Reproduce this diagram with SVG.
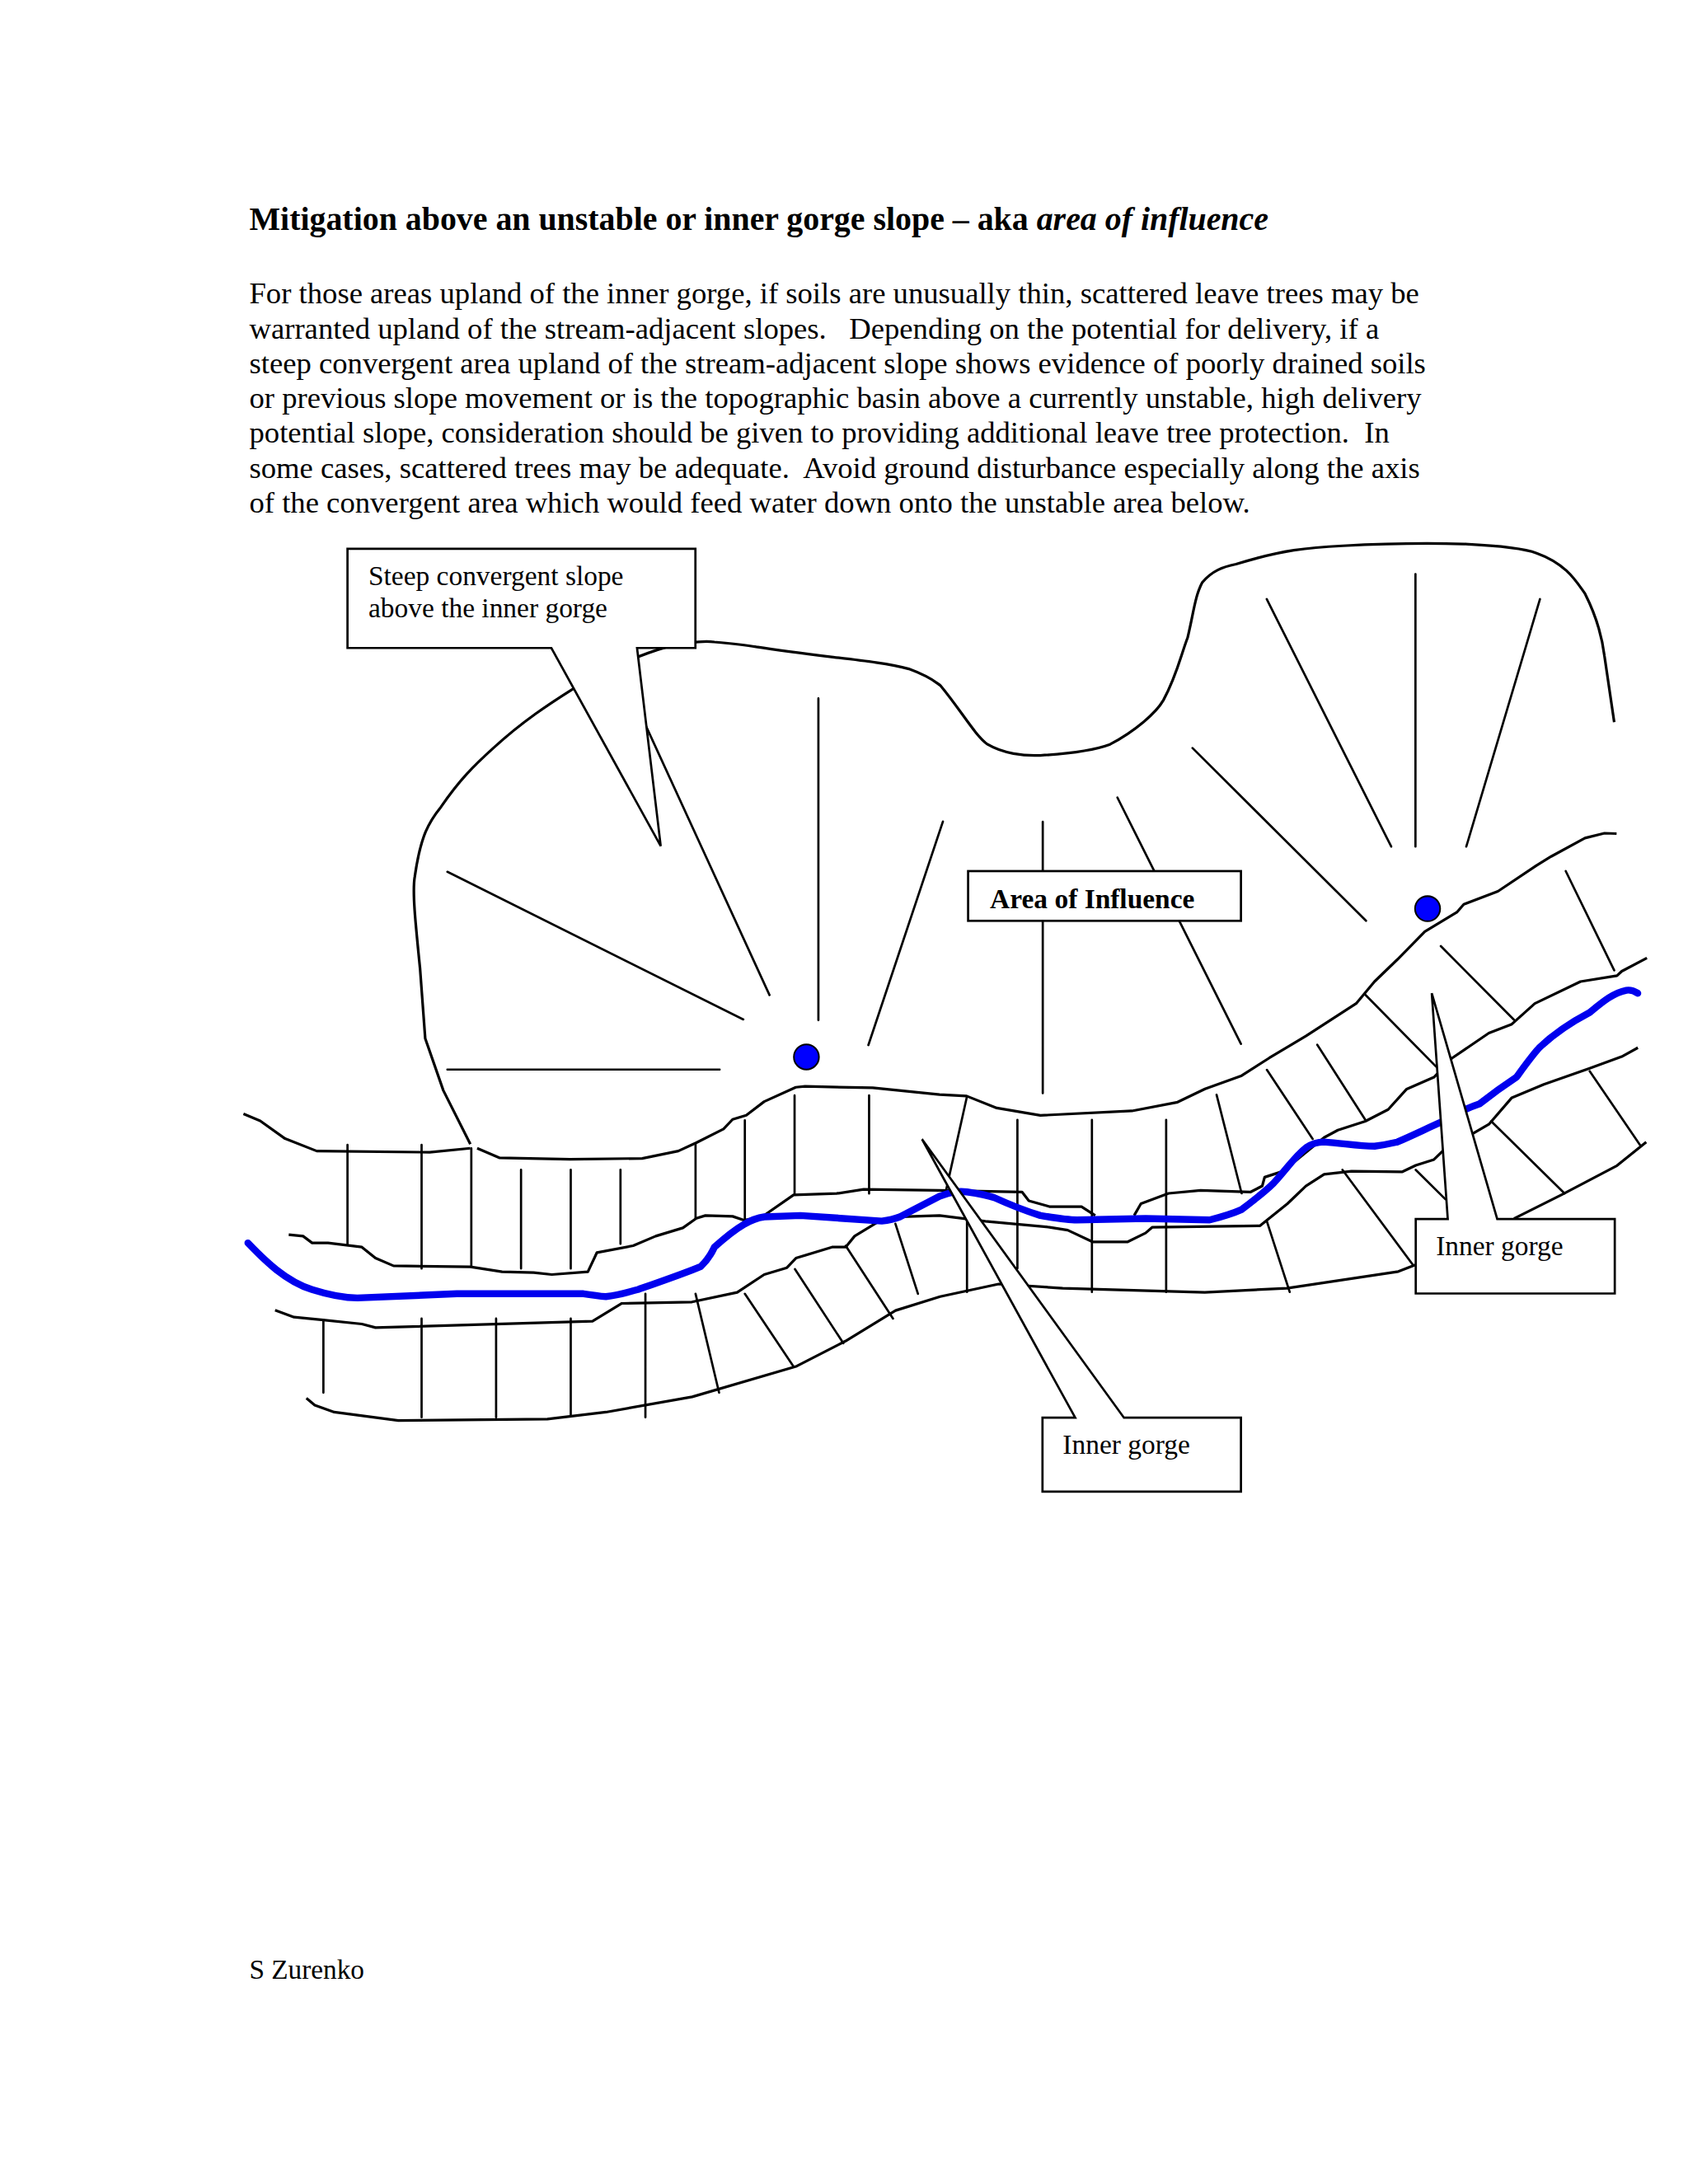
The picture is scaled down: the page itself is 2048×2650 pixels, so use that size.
<svg xmlns="http://www.w3.org/2000/svg" width="2048" height="2650" viewBox="0 0 2048 2650">
<style>
.ln{fill:none;stroke:#000;stroke-width:1.6;stroke-linejoin:round;stroke-linecap:round}
.bank{fill:none;stroke:#000;stroke-width:1.9;stroke-linejoin:round}
.box{fill:#fff;stroke:#000;stroke-width:1.6}
.t{font-family:"Liberation Serif","Times New Roman",serif;fill:#000;white-space:pre}
.dot{fill:#0000ff;stroke:#000;stroke-width:1.2}
</style>
<rect width="2048" height="2650" fill="#fff"/>
<g transform="scale(1.6898)">
<g id="text">
<text class="t" x="179" y="165" font-size="23.6" font-weight="bold">Mitigation above an unstable or inner gorge slope – aka <tspan font-style="italic">area of influence</tspan></text>
<g font-size="21.7">
<text class="t" x="179" y="218">For those areas upland of the inner gorge, if soils are unusually thin, scattered leave trees may be</text>
<text class="t" x="179" y="243">warranted upland of the stream-adjacent slopes.   Depending on the potential for delivery, if a</text>
<text class="t" x="179" y="268">steep convergent area upland of the stream-adjacent slope shows evidence of poorly drained soils</text>
<text class="t" x="179" y="293">or previous slope movement or is the topographic basin above a currently unstable, high delivery</text>
<text class="t" x="179" y="318">potential slope, consideration should be given to providing additional leave tree protection.  In</text>
<text class="t" x="179" y="343">some cases, scattered trees may be adequate.  Avoid ground disturbance especially along the axis</text>
<text class="t" x="179" y="368">of the convergent area which would feed water down onto the unstable area below.</text>
</g>
<text class="t" x="179" y="1421" font-size="19.7">S Zurenko</text>
</g>
<g id="connectors">
<path class="bank" d="M337.7,821.5 L318.3,783 L305.3,745.6 L301.6,695.5 C298,660 296,640 297.8,629.5 C302,600 308,590 316.7,579.3 C330,560 340,550 354.4,537 C375,518 395,505 411,494.9 C440,478 460,470 479,464.5 C495,461 505,460 513,461 C525,462 535,463 543,464.5 C590,472 630,474 652.5,480.3 C668,486 672,490 675.2,492.2 C690,510 700,528 709.1,534.5 C720,541 735,543 747,542.4 C770,541 785,539 797,534.5 C815,525 830,512 835.3,502.8 C845,485 848,470 852.7,457.9 C857,440 858,428 863.2,418.3 C870,410 878,407 887.5,405.1 C920,395 940,393 964.1,391.9 C1000,390 1030,390 1051.1,390.6 C1080,392 1095,394 1103.3,397.2 C1125,405 1132,418 1138,426.2 C1146,442 1150,455 1152,471.1 L1159,518.6"/>
<path class="ln" d="M321.2,626 L533.7,732 M321.2,768 L516.7,768 M463.8,521.3 L552.5,714.5 M587.6,501.5 L587.6,732.5 M677,589.9 L623.5,750.4 M748.7,590 L748.7,785 M802.3,572.7 L891,749.6 M856.2,537.1 L980.8,661.2 M909.5,430.2 L998.9,607.9 M1016.3,412.2 L1016.3,607.9 M1105.7,430.2 L1052.8,607.9"/>
<path class="bank" d="M174.8,799.8 L186.8,804.8 L204.7,817.6 L227.4,826.5 L308.5,827.4 L337.7,824.5"/>
<path class="bank" d="M342.6,824.5 L358.8,831.4 L409.2,832.4 L461.1,831.8 L487,826.5 L500,820.5 L519.5,810.7 L526,803.8 L535.8,800.8 L548.7,791 L571.4,780.7 L578,780.1 L626.6,781.1 L674.6,786 L694,787 L715.7,795.6 L747,800.9 L812.7,797.7 L845.5,791.4 L865.2,781.9 L891.5,772.4 L911.3,759.7 L937.6,743.9 L973.7,720.6 L986.9,704.8 L1003.3,689 L1023,668.9 L1046,655.1 L1051,649.3 L1075.5,640 L1103,621.6 L1113.7,615 L1138,601.8 L1152,598.3 L1160.7,598.6"/>
<path class="bank" d="M207.3,886.6 L217.6,887.6 L224.1,892.5 L235.5,892.5 L259.8,895.5 L269.6,903.4 L282.5,908.9 L337.7,909.7 L360.5,913.2 L383.2,913.8 L396.2,915.2 L422.1,913.2 L428.6,899.4 L454.6,894.5 L470.8,887.6 L490.3,881.7 L500,874.8 L506.5,872.8 L526,873.4 L534.1,876.2 L547.1,873.8 L569.8,858 L600.7,857 L620.1,854 L674.6,854.8 L733.8,855.9 L738.7,862.2 L753.5,866.4 L776.5,866.4 L786.4,872.8"/>
<path class="bank" d="M814.3,872.8 L819.2,864.3 L839,856.9 L862,854.8 L898,855.9 L906.3,851.6 L908,845.3 L921.2,841 L950.7,816.8 L960.6,811.5 L980.3,805.1 L996.7,796.7 L1010,782 L1029.6,773.5 L1042.7,759.7 L1069,741.8 L1085.5,735.4 L1102,720.6 L1134.8,704.8 L1161,700.6 L1164.4,697.4 L1182.5,687.9"/>
<path class="bank" d="M197.5,940.8 L211.1,945.8 L230.6,947.7 L259.8,950.7 L269.6,953.3 L425.4,948.7 L446.5,935.9 L496.8,934.9 L529.3,928 L548.7,915.2 L565,910.3 L571.5,903.4 L597.4,895.5 L607.2,895.5 L613.6,887.6 L629.9,877.7 L642.9,873.8 L674.6,872.8 L707.5,877 L753.5,881.2 L766.6,883.3 L784.7,891.8 L809.4,891.8 L822.5,885.4 L827.4,881.2 L904.7,880.2 L924.4,864.3 L937.6,851.6 L950.7,843.2 L970.4,841 L1006.6,841.5 L1016.5,836.8 L1029.6,832.6 L1036,826.3 L1069,807.3 L1085.5,788.2 L1108.5,778.7 L1141.4,767.1 L1164.4,758.7 L1176,752.3"/>
<path class="bank" d="M220,1004 L226,1009 L240,1014 L286,1020 L393,1019 L435,1014 L497,1003 L572,981 L607,963 L643,941 L675,931 L717,922 L763,925 L865,928 L924,925 L1004,913 L1017,908 M1087,875 L1121,858 L1161,837 L1182,820"/>
<path class="ln" d="M249.5,822.1 V893.5 M302.7,822.1 V910.9 M338.4,824.5 V909.3 M374.1,839.9 V910.9 M409.8,839.9 V910.9 M445.5,839.9 V893.1 M499.4,821.5 V874.8 M534.8,804.4 V875.8 M570.5,786.6 V857 M624,786.6 V857 M694.3,787.2 L679.5,853.7 M730.5,804.1 V910.8 M784,804.1 V927.7 M837.3,804.1 V927.7 M873.5,786.1 L891.5,856.9 M909.6,768.2 L942.5,817.8 M945.8,750.2 L980.3,804.1 M980.3,714.3 L1031.2,766 M1034.5,679.4 L1087.1,732.3 M1124.2,625.5 L1159,696.8"/>
<path class="ln" d="M232.2,947.7 V1000 M302.7,946.8 V1017.7 M356.2,946.8 V1017.7 M409.8,946.8 V1016.8 M463.4,929 V1017.7 M499.4,929 L516.3,1000 M534.8,929 L569.8,981.3 M570.8,911.3 L605.5,964.5 M607.2,894.5 L641.2,946.8 M642.9,878.7 L659.1,929 M694.3,874.9 V927.7 M909.6,877 L926,927.7 M963.9,840 L1014.8,908.7 M1016.5,840 L1037.8,861.1 M1070.7,805.1 L1123.3,856.9 M1141.4,769.2 L1177.5,822.1"/>
<path fill="none" stroke="#0000ee" stroke-width="5" stroke-linejoin="round" stroke-linecap="round" d="M178,892.5 C190,905 205,920 224.1,926 C240,931 250,932 256.6,932 L328,929 L419,929 C428,930 430,931 435,931 C445,930 450,928 457.9,926 C475,920 495,913 503.3,909.3 C510,903 512,897 513,895.5 C530,880 540,875 548.7,873.8 L574.7,872.8 L633.1,876.8 C640,876 643,875 646.1,873.8 L674.6,859 C683,856 688,855 694.3,855.9 C702,857 708,858 714,860 C725,865 738,870 747,872.8 C760,875 766,876 773.2,876 L822.5,875 L868.5,876 C880,873 886,871 891.5,868.5 C900,862 908,856 914.5,849.5 C925,838 930,830 937.6,824.2 C942,821 946,820 950.7,820 C965,821 975,823 987,823 C995,822 999,821 1003.3,820 C1015,815 1025,810 1036.2,805.1 C1048,798 1055,795 1062.5,792.5 C1072,785 1082,778 1088.8,773.5 C1095,765 1100,758 1105.2,752.3 C1118,740 1130,733 1141.4,727 C1150,720 1158,713 1167.7,711.1 C1171,710.5 1174,712 1175.9,713.2"/>
</g>
<g id="dot1"><circle class="dot" cx="579" cy="759" r="9"/></g>
<g id="dot2"><circle class="dot" cx="1025" cy="652.5" r="9"/></g>
<g id="callout-steep">
<path class="box" d="M249.5,394 H499.3 V465.3 H457.4 L474.4,607.5 L395.9,465.3 H249.5 Z"/>
<text class="t" x="264.5" y="420" font-size="19.8">Steep convergent slope</text>
<text class="t" x="264.5" y="443" font-size="19.8">above the inner gorge</text>
</g>
<g id="area-of-influence">
<rect class="box" x="695.1" y="625.5" width="195.9" height="35.7"/>
<text class="t" x="710.8" y="652" font-size="19.8" font-weight="bold">Area of Influence</text>
</g>
<g id="inner-gorge-right">
<path class="box" d="M1016.5,875.3 H1039.5 L1028,713.2 L1075,875.3 H1159.4 V928.8 H1016.5 Z"/>
<text class="t" x="1031" y="901" font-size="19.8">Inner gorge</text>
</g>
<g id="inner-gorge-bottom">
<path class="box" d="M748.5,1018 H772 L662,818 L807,1018 H891 V1071 H748.5 Z"/>
<text class="t" x="763" y="1044" font-size="19.8">Inner gorge</text>
</g>
</g>
</svg>
